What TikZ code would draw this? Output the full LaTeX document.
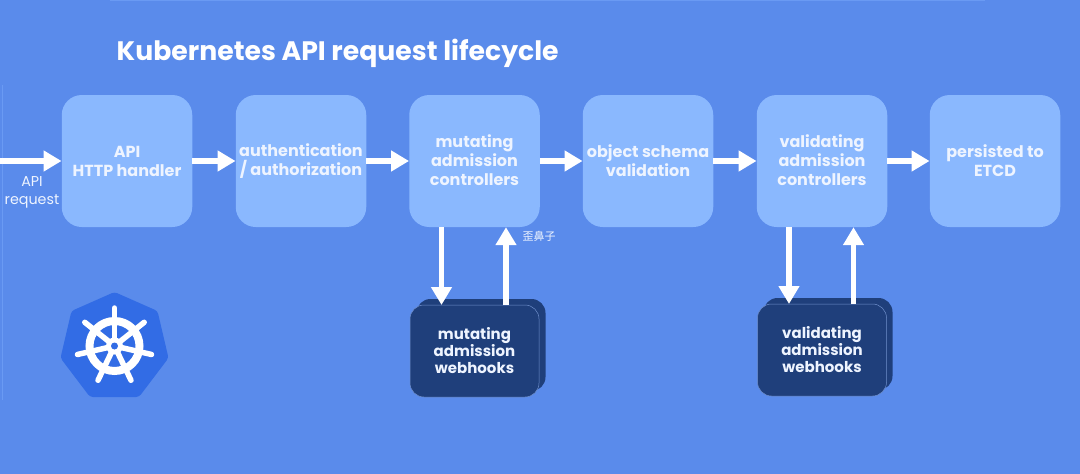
\documentclass[tikz,border=0pt]{standalone}
\usepackage{fontspec}
\setmainfont{Poppins}
\newfontfamily\cjk{Noto Sans CJK SC}
\usetikzlibrary{arrows.meta,calc}
\definecolor{bgblue}{HTML}{5A8BEB}
\definecolor{edgeblue}{HTML}{6A9AF3}
\definecolor{boxblue}{HTML}{8AB8FE}
\definecolor{darkblue}{HTML}{1F3F7B}
\definecolor{darkedge}{HTML}{6F8FCB}
\definecolor{logoblue}{HTML}{326CE5}
\definecolor{textlight}{HTML}{EEF4FF}
\newcommand{\liftline}{\rule[-2pt]{0pt}{2pt}}
\tikzset{
  stagebox/.style={rectangle,rounded corners=20pt,fill=boxblue,minimum width=130.5pt,minimum height=132pt,inner sep=0pt,align=center,text=textlight,font=\fontsize{16}{19}\selectfont\bfseries},
  hookback/.style={rectangle,rounded corners=14pt,fill=darkblue,minimum width=129pt,minimum height=92pt,inner sep=0pt},
  hookfront/.style={hookback,draw=darkedge,line width=0.5pt,align=center,text=textlight,font=\fontsize{15}{17}\selectfont\bfseries},
  flow/.style={draw=white,line width=5.5pt,-{Triangle[width=20pt,length=18pt]}},
  wheel/.style={draw=white,line cap=round},
}
\begin{document}
\begin{tikzpicture}[x=1pt,y=-1pt]
\useasboundingbox (0,0) rectangle (1080,474);
\fill[bgblue] (0,0) rectangle (1080,474);
\fill[edgeblue] (110,0) rectangle (985,1.2);
\fill[edgeblue] (2,85) rectangle (3,400);
\node[anchor=west,text=white,font=\fontsize{26.7}{30}\selectfont\bfseries,inner sep=0pt] (title) at (116.5,53) {Kubernetes API request lifecycle};

\node[stagebox] (http) at (127,161) {API\\HTTP handler};
\node[stagebox] (auth) at (301,161) {authentication\\/ authorization};
\node[stagebox] (mut) at (474.5,161) {mutating\\admission\\controllers\liftline};
\node[stagebox] (schema) at (648,161) {object schema\\validation};
\node[stagebox] (val) at (822,161) {validating\\admission\\controllers\liftline};
\node[stagebox] (etcd) at (995,161) {persisted to\\ETCD};

\node[hookback] (mutb) at (481,345) {};
\node[hookfront] (mutf) at (474.5,351) {mutating\\admission\\webhooks};
\node[hookback] (valb) at (828,344) {};
\node[hookfront] (valf) at (822,350) {validating\\admission\\webhooks};

\coordinate (start) at (0,161);
\node[anchor=north,align=center,text=textlight,font=\fontsize{14.3}{17.5}\selectfont,inner sep=0pt] (apireq) at (32,176.5) {API\\request};
\node[text=textlight,font=\cjk\fontsize{11}{12}\selectfont,inner sep=0pt] (nose) at (539,236) {歪鼻子};

\draw[flow] (start) -- (http.west);
\draw[flow] (http.east) -- (auth.west);
\draw[flow] (auth.east) -- (mut.west);
\draw[flow] (mut.east) -- (schema.west);
\draw[flow] (schema.east) -- (val.west);
\draw[flow] (val.east) -- (etcd.west);
\draw[flow] (mut.south -| 441.5,0) -- (441.5,305);
\draw[flow] (506,305) -- (mut.south -| 506,0);
\draw[flow] (val.south -| 789,0) -- (789,304);
\draw[flow] (853.5,304) -- (val.south -| 853.5,0);

% logo
\fill[logoblue,rounded corners=3pt] (114.5,292) -- (157.5,311) -- (168.5,358) -- (139,397) -- (90,397) -- (60.5,358) -- (71.5,311) -- cycle;
\begin{scope}[shift={(114.5,346)}]
  \draw[wheel,line width=8pt] (0,0) circle (25pt);
  \foreach \a in {90,38.6,-12.9,-64.3,-115.7,-167.1,141.4}{
    \draw[wheel,line width=5.5pt] (\a:6pt) -- (\a:38pt);
  }
  \fill[white] (0,0) circle (8.5pt);
  \fill[logoblue] (0,0) circle (3.5pt);
\end{scope}
\end{tikzpicture}
\end{document}
